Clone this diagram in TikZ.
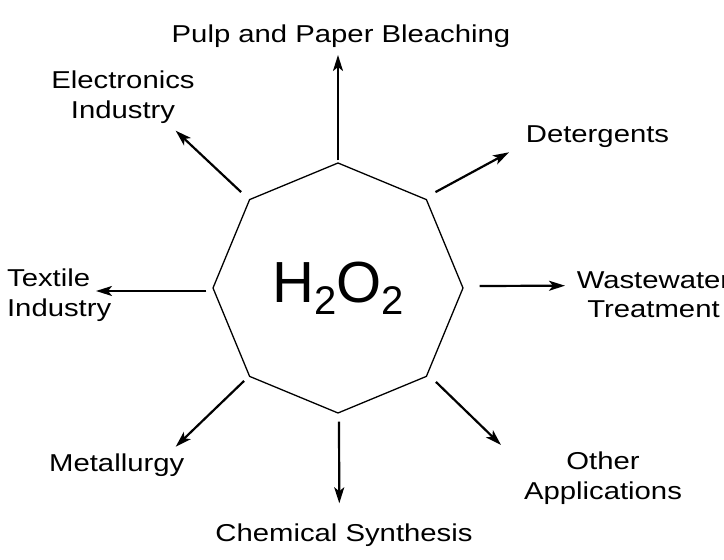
\documentclass[tikz,border=0pt]{standalone}
\usepackage{fontspec}
\setmainfont{Liberation Sans}
\newfontfamily\appfont{Liberation Sans}[FakeStretch=1.2]
\usetikzlibrary{arrows.meta,shapes.geometric}
\newcommand{\lowtwo}{\raisebox{-0.2em}{\fontsize{20}{20}\selectfont 2}}

\begin{document}
\begin{tikzpicture}[x=0.5pt,y=-0.5pt,
  use/.style={line width=1.1pt,-{Stealth[length=8pt,width=5pt,inset=2pt]}},
  app/.style={font=\appfont\fontsize{12.2}{15}\selectfont,align=center,inner sep=0pt,anchor=base}]
\useasboundingbox (0,0) rectangle (724,560);
%
\node[draw,line width=0.65pt,regular polygon,regular polygon sides=8,shape border rotate=22.5,
  minimum size=125pt,inner sep=0pt,font=\fontsize{29}{29}\selectfont] (hp) at (338,288) {H\lowtwo O\lowtwo};
%
% two-line labels sit on the baseline of their second line
\node[app] (pulp) at (341,42.3) {Pulp and Paper Bleaching};
\node[app] (elec) at (123,118.3) {Electronics\\Industry};
\node[app] (det) at (597.5,142.3) {Detergents};
\node[app,font=\appfont\fontsize{12.2}{14.5}\selectfont] (waste) at (653.5,317.3) {Wastewater\\Treatment};
\node[app,anchor=base west,align=left] (textile) at (6.7,316.7) {Textile\\Industry};
\node[app] (metal) at (116.7,471.7) {Metallurgy};
\node[app] (chem) at (344,541.7) {Chemical Synthesis};
\node[app] (other) at (603,500) {Other\\Applications};
%
\coordinate (pulp-t) at (338,55);
\coordinate (elec-t) at (175.7,130.7);
\coordinate (det-t) at (509,152.3);
\coordinate (waste-t) at (565,285.7);
\coordinate (textile-t) at (96,291);
\coordinate (metal-t) at (175.7,446.7);
\coordinate (chem-t) at (339.3,503.3);
\coordinate (other-t) at (501,445);
%
\draw[use] ([shift={(0,-2)}]hp.90) -- (pulp-t);
\draw[use] ([shift={(-8,-7)}]hp.135) -- (elec-t);
\draw[use] ([shift={(8.6,-7)}]hp.45) -- (det-t);
\draw[use] ([shift={(16,-2)}]hp.0) -- (waste-t);
\draw[use] ([shift={(-6,3)}]hp.180) -- (textile-t);
\draw[use] ([shift={(-5,4)}]hp.225) -- (metal-t);
\draw[use] ([shift={(1,8)}]hp.270) -- (chem-t);
\draw[use] ([shift={(9,5)}]hp.315) -- (other-t);
\end{tikzpicture}
\end{document}
